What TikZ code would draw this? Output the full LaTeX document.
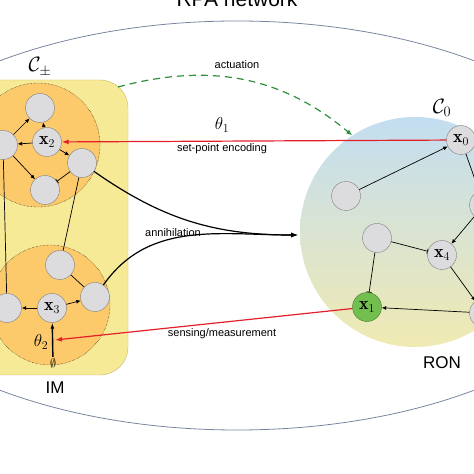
\documentclass[tikz,border=0pt]{standalone}
\usepackage{fontspec}
\setsansfont{Liberation Sans}
\usepackage{amsmath,amssymb}
\usetikzlibrary{shapes.geometric,arrows.meta,positioning,calc}

\definecolor{netline}{HTML}{7A86A0}
\definecolor{imfill}{HTML}{F7EA97}
\definecolor{imedge}{HTML}{C9B75C}
\definecolor{clusterfill}{HTML}{FCC96B}
\definecolor{speciesfill}{HTML}{DCDCDE}
\definecolor{speciesedge}{HTML}{7F7F7F}
\definecolor{outfill}{HTML}{72BE4E}
\definecolor{outedge}{HTML}{3F7A2A}
\definecolor{ronblue}{HTML}{C3DDF1}
\definecolor{ronyellow}{HTML}{F0EAB2}
\definecolor{sigred}{HTML}{E3202A}
\definecolor{actgreen}{HTML}{2F8F3C}

\begin{document}
\begin{tikzpicture}[
    x=1pt, y=1pt,
    species/.style={
        circle,
        draw=speciesedge,
        fill=speciesfill,
        minimum size=29pt,
        inner sep=0pt,
        font=\fontsize{18}{20}\selectfont
    },
    output/.style={
        species,
        draw=outedge,
        fill=outfill
    },
    cluster/.style={
        circle,
        draw=black,
        densely dotted,
        fill=clusterfill,
        inner sep=0pt
    },
    flow/.style={
        font=\sffamily\fontsize{11}{13}\selectfont
    },
    biglabel/.style={
        font=\sffamily\fontsize{17}{20}\selectfont
    },
    mathlabel/.style={
        font=\fontsize{20}{24}\selectfont
    },
    act/.style={
        -{Latex[length=4.5pt,width=4pt]},
        line width=0.7pt
    },
    inh/.style={
        -{Bar[width=5pt]},
        line width=0.7pt
    },
    link/.style={
        line width=0.7pt
    },
    annih/.style={
        -{Latex[length=7pt,width=5pt]},
        line width=1.2pt
    },
    signal/.style={
        -{Latex[length=7pt,width=5pt]},
        draw=sigred,
        line width=1.2pt
    },
    actuate/.style={
        -{Latex[length=6pt,width=5pt]},
        draw=actgreen,
        dash pattern=on 7pt off 5pt,
        line width=1.2pt
    }
]
\useasboundingbox (0,0) rectangle (474,474);

% Compartments
\node[ellipse, draw=netline, thick, minimum width=800pt, minimum height=409pt, inner sep=0pt] (rpa) at (237,248.5) {};
\node[rectangle, rounded corners=28pt, draw=imedge, fill=imfill, minimum width=168pt, minimum height=295pt] (im) at (44,246.5) {};
\node[cluster, minimum size=124pt] (cpm1) at (38,329) {};
\node[cluster, minimum size=120pt] (cpm2) at (50,169) {};
\node[circle, minimum size=230pt, top color=ronblue, bottom color=ronyellow, inner sep=0pt] (ron) at (415,242) {};

% Labels
\node[font=\sffamily\fontsize{21}{24}\selectfont, anchor=base] (ttl) at (237,467) {RPA network};
\node[mathlabel] (cpmlbl) at (40,407) {$\mathcal{C}_{\pm}$};
\node[mathlabel] (c0lbl) at (442,366) {$\mathcal{C}_0$};
\node[biglabel] (imlbl) at (55,86) {IM};
\node[biglabel] (ronlbl) at (442,111) {RON};

% IM species
\node[species] (u1) at (40,366) {};
\node[species] (u2) at (3,329) {};
\node[species] (x2) at (47,332) {$\mathbf{x}_2$};
\node[species] (u3) at (82,311) {};
\node[species] (u4) at (45,284) {};
\node[species] (l1) at (60,209) {};
\node[species] (l2) at (95,177) {};
\node[species] (x3) at (52,166) {$\mathbf{x}_3$};
\node[species] (l3) at (7,166) {};
\node[font=\fontsize{13}{15}\selectfont, inner sep=1pt] (null) at (53,111) {$\emptyset$};
\node[font=\fontsize{18}{20}\selectfont] (th2) at (41,132) {$\theta_2$};

% RON species
\node[species] (x0) at (461,334) {$\mathbf{x}_0$};
\node[species] (r1) at (346,278) {};
\node[species] (r2) at (484,269) {};
\node[species] (r3) at (377,236) {};
\node[species] (x4) at (442,219) {$\mathbf{x}_4$};
\node[species] (r4) at (484,161) {};
\node[output] (x1) at (367,167) {$\mathbf{x}_1$};

% IM reactions
\draw[act] (x2) -- (u1);
\draw[act] (u2) -- (u1);
\draw[act] (x2) -- (u2);
\draw[act] (x2) -- (u3);
\draw[act] (u2) -- (u4);
\draw[inh] (u3) -- (u4);
\draw[link] (u2) -- (l3);
\draw[link] (u3) -- (l1);
\draw[link] (l1) -- (l2);
\draw[act] (x3) -- (l3);
\draw[act] (x3) -- (l2);
\draw[-{Latex[length=6pt,width=4pt]}, line width=1.4pt] (null) -- (x3);

% RON reactions
\draw[act] (r1) -- (x0);
\draw[act] (x0) -- (r2);
\draw[act] (r2) -- (x4);
\draw[inh] (r3) -- (x4);
\draw[inh] (r3) -- (x1);
\draw[act] (x4) -- (r4);
\draw[act] (r4) -- (x1);

% Interconnections
\coordinate (annpt) at (298,239);
\coordinate (meas) at (55,134);
\coordinate (actsrc) at (118,387);
\draw[annih] (u3) to[out=-35, in=180] (annpt);
\draw[annih] (l2) to[out=55, in=180] (annpt);
\draw[signal] (x0) -- (x2);
\draw[signal] (x1) -- (meas);
\draw[actuate] (actsrc) to[out=15, in=140] (ron.123);

\node[flow] (actlbl) at (237,409) {actuation};
\node[font=\fontsize{17}{20}\selectfont] (th1) at (222,349) {$\theta_1$};
\node[flow] (splbl) at (222,325) {set-point encoding};
\node[flow] (annlbl) at (173,241) {annihilation};
\node[flow] (senslbl) at (222,140) {sensing/measurement};

\end{tikzpicture}
\end{document}
